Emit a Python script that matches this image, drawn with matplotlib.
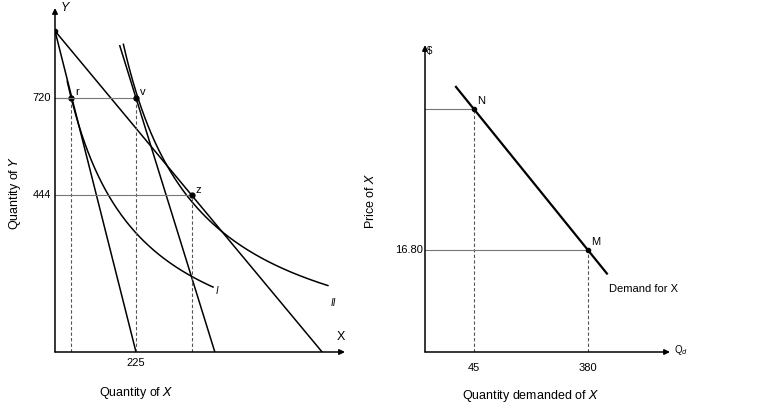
import numpy as np
import matplotlib.pyplot as plt

# left panel: consumer choice (Quantity of X, Quantity of Y)
y_intercept = 910
x_intercepts = [225, 444, 742]          # steep line through r, line through v, original line
pts_x = [45, 225, 380]                  # r, v, z
pts_y = [720, 720, 444]
pt_names = ['r', 'v', 'z']
# indifference curves y = k / (x + b) + c
curve_I = dict(k=161600, b=155, c=-88, x0=34, x1=439)
curve_II = dict(k=194300, b=18, c=-62, x0=190, x1=758)

# right panel: demand
q_vals = [45, 380]
p_vals = [40, 16.80]
dem_names = ['N', 'M']
dem_q_range = [-8, 436]

W, H = 772, 420
fig = plt.figure(figsize=(7.72, 4.2), dpi=100)
plt.rcParams['font.family'] = 'Liberation Sans'
LW = 1.1


def px_axes(x0, y0, x1, y1):
    # pixel box (top-left origin) -> axes
    return fig.add_axes([x0 / W, 1 - y1 / H, (x1 - x0) / W, (y1 - y0) / H])


# ---------- left panel ----------
ax = px_axes(55, 8, 345, 352)
sx, sy = 0.36, 0.3528
ax.set_xlim(0, (345 - 55) / sx)
ax.set_ylim(0, (352 - 8) / sy)
ax.axis('off')
xm, ym = ax.get_xlim()[1], ax.get_ylim()[1]
ax.annotate('', xy=(0, ym), xytext=(0, 0), annotation_clip=False,
            arrowprops=dict(arrowstyle='-|>', color='k', lw=LW, mutation_scale=8, shrinkA=0, shrinkB=0))
ax.annotate('', xy=(xm, 0), xytext=(0, 0), annotation_clip=False,
            arrowprops=dict(arrowstyle='-|>', color='k', lw=LW, mutation_scale=8, shrinkA=0, shrinkB=0))

# budget lines
ax.plot([0, x_intercepts[0]], [y_intercept, 0], color='k', lw=LW)
ax.plot([0, x_intercepts[2]], [y_intercept, 0], color='k', lw=LW)
sl = pts_y[1] / (x_intercepts[1] - pts_x[1])
ax.plot([180, x_intercepts[1]], [sl * (x_intercepts[1] - 180), 0], color='k', lw=LW)

for cv in (curve_I, curve_II):
    xs = np.linspace(cv['x0'], cv['x1'], 200)
    ax.plot(xs, cv['k'] / (xs + cv['b']) + cv['c'], color='k', lw=LW)

for x, y, n in zip(pts_x, pts_y, pt_names):
    ax.plot([0, x], [y, y], color='#777777', lw=0.8)
    ax.plot([x, x], [0, y], color='#555555', lw=0.8, ls=(0, (3, 2)))
    ax.plot(x, y, 'o', color='k', ms=3.5)
    ax.text(x + 10, y + 8, n, fontsize=8)
ax.plot(0, y_intercept, 'o', color='k', ms=3)

ax.text(-12, 720, '720', fontsize=8, ha='right', va='center')
ax.text(-12, 444, '444', fontsize=8, ha='right', va='center')
ax.text(225, -30, '225', fontsize=8, ha='center', va='center')
ax.text(445, 173, 'I', fontsize=7, style='italic', va='center')
ax.text(765, 140, 'II', fontsize=7, style='italic', va='center')
ax.text(xm - 10, 35, 'X', fontsize=9, ha='center')
ax.text(15, ym, 'Y', fontsize=9, style='italic', va='center')
ax.text(-110, 450, 'Quantity of $\\mathit{Y}$', fontsize=9, rotation=90, ha='center', va='center')
ax.text(225, -115, 'Quantity of $\\mathit{X}$', fontsize=9, ha='center', va='center')
fig.lines.append(plt.Line2D([32 / W, 45 / W], [1 - 40 / H] * 2, color='k', lw=0.8))
for cx in (73, 192, 213, 323):
    fig.lines.append(plt.Line2D([(cx - 8) / W, (cx + 8) / W], [1 - 370 / H] * 2, color='k', lw=0.8))

# ---------- right panel ----------
ax2 = px_axes(425, 45, 670, 352)
qs, ps = 0.34, 6.07
ax2.set_xlim(45 - (474 - 425) / qs, 45 + (670 - 474) / qs)
ax2.set_ylim(0, (352 - 45) / ps)
ax2.axis('off')
x0, x1 = ax2.get_xlim()
y1 = ax2.get_ylim()[1]
ax2.annotate('', xy=(x0, y1), xytext=(x0, 0), annotation_clip=False,
             arrowprops=dict(arrowstyle='-|>', color='k', lw=LW, mutation_scale=8, shrinkA=0, shrinkB=0))
ax2.annotate('', xy=(x1, 0), xytext=(x0, 0), annotation_clip=False,
             arrowprops=dict(arrowstyle='-|>', color='k', lw=LW, mutation_scale=8, shrinkA=0, shrinkB=0))
slope = (p_vals[1] - p_vals[0]) / (q_vals[1] - q_vals[0])
dq = np.array(dem_q_range)
ax2.plot(dq, p_vals[0] + slope * (dq - q_vals[0]), color='k', lw=1.6)
for q, p, n in zip(q_vals, p_vals, dem_names):
    ax2.plot([x0, q], [p, p], color='#777777', lw=0.8)
    ax2.plot([q, q], [0, p], color='#555555', lw=0.8, ls=(0, (3, 2)))
    ax2.plot(q, p, 'o', color='k', ms=3)
    ax2.text(q + 10, p + 0.8, n, fontsize=8)
    ax2.text(q, -2.6, f'{q}', fontsize=8, ha='center', va='center')
ax2.text(x0 - 5, p_vals[1], '16.80', fontsize=8, ha='right', va='center')
ax2.text(dq[1] + 5, p_vals[0] + slope * (dq[1] - q_vals[0]) - 2.5, 'Demand for X', fontsize=8, va='center')
ax2.text(x1 + 12, 0.3, 'Q$_d$', fontsize=7, va='center')
ax2.text(x0 + 5, y1 - 1.5, '$', fontsize=7)
ax2.text(x0 - 160, 25, 'Price of $\\mathit{X}$', fontsize=9, rotation=90, ha='center', va='center')
ax2.text(212, -7.2, 'Quantity demanded of $\\mathit{X}$', fontsize=9, ha='center', va='center')
fig.lines.append(plt.Line2D([395 / W, 412 / W], [1 - 116 / H] * 2, color='k', lw=0.8))

fig.savefig('out.png', dpi=100)
